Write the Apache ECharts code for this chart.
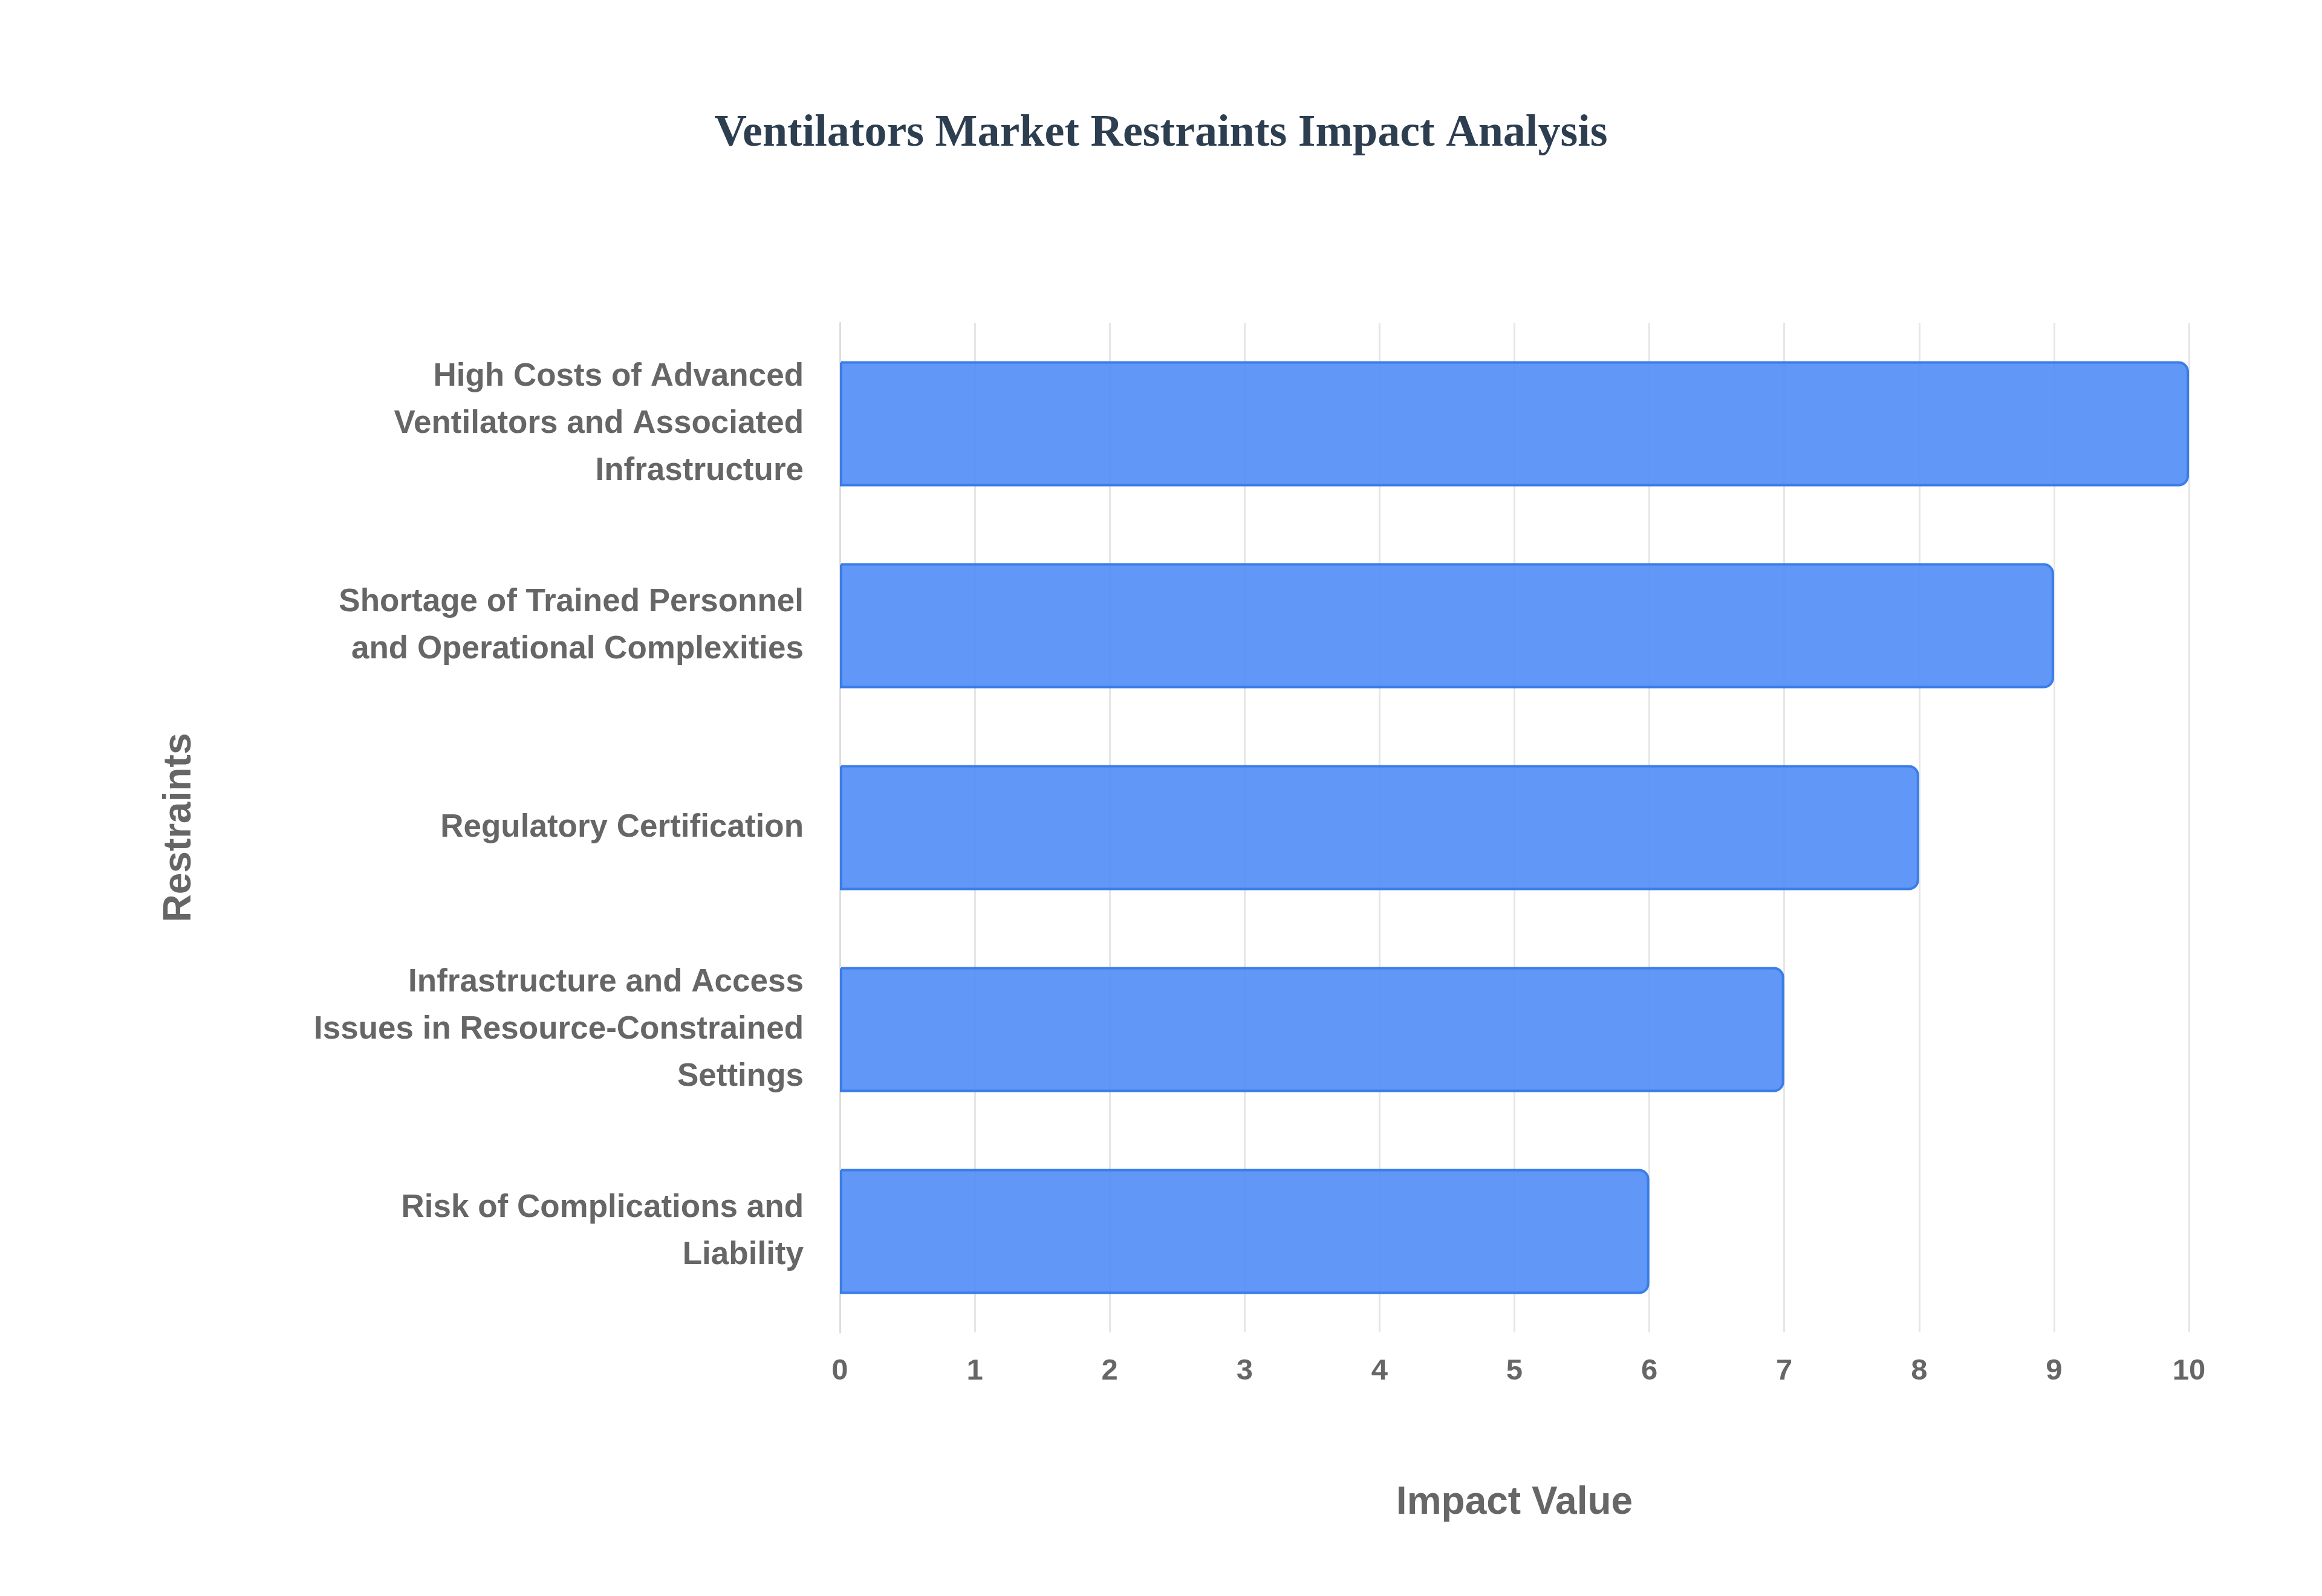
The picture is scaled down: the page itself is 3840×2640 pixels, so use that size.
<!DOCTYPE html>
<html>
<head>
<meta charset="utf-8">
<title>Ventilators Market Restraints</title>
<script src="https://cdn.jsdelivr.net/npm/echarts@6/dist/echarts.min.js"></script>
</head>
<body style="margin:0;background:#fff">
<div id="main" style="width:3840px;height:2640px"></div>
<script>
var categories = [
  'High Costs of Advanced\nVentilators and Associated\nInfrastructure',
  'Shortage of Trained Personnel\nand Operational Complexities',
  'Regulatory Certification',
  'Infrastructure and Access\nIssues in Resource-Constrained\nSettings',
  'Risk of Complications and\nLiability'
];
var impactValues = [10, 9, 8, 7, 6];

var chart = echarts.init(document.getElementById('main'));
chart.setOption({
  backgroundColor: '#fff',
  title: {
    text: 'Ventilators Market Restraints Impact Analysis',
    left: 'center', top: 180,
    textStyle: { fontFamily: 'Liberation Serif', fontWeight: 'bold', fontSize: 74, color: '#2c3e50' }
  },
  grid: { left: 1389, right: 220, top: 534, bottom: 436 },
  xAxis: {
    type: 'value', min: 0, max: 10, interval: 1,
    name: 'Impact Value', nameLocation: 'middle', nameGap: 250,
    nameTextStyle: { fontFamily: 'Liberation Sans', fontWeight: 'bold', fontSize: 64, color: '#666' },
    axisLabel: { fontFamily: 'Liberation Sans', fontWeight: 'bold', fontSize: 49, color: '#666', margin: 40 },
    axisLine: { show: false }, axisTick: { show: false },
    splitLine: { lineStyle: { color: '#e6e6e6', width: 3 } }
  },
  yAxis: {
    type: 'category', data: categories, inverse: true,
    name: 'Restraints', nameLocation: 'middle', nameGap: 1060,
    nameTextStyle: { fontFamily: 'Liberation Sans', fontWeight: 'bold', fontSize: 64, color: '#666' },
    axisLabel: { fontFamily: 'Liberation Sans', fontWeight: 'bold', fontSize: 53, color: '#666', lineHeight: 78, margin: 60, align: 'right' },
    axisLine: { lineStyle: { color: '#ddd', width: 3 } }, axisTick: { show: false }
  },
  series: [{
    type: 'bar', data: impactValues, barCategoryGap: '38%',
    itemStyle: { color: 'rgba(80,140,245,0.9)', borderColor: '#3b7de8', borderWidth: 4, borderRadius: [0, 15, 15, 0] }
  }]
});
</script>
</body>
</html>
